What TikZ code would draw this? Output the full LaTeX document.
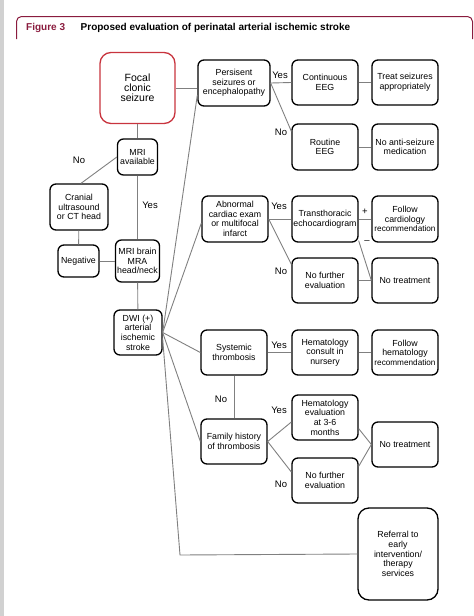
\documentclass[tikz,border=0pt]{standalone}
\usepackage{fontspec}
\setmainfont{Liberation Sans}
\definecolor{figred}{HTML}{8A1C3E}
\definecolor{seizred}{HTML}{C8343E}
\begin{document}
\begin{tikzpicture}[x=1pt,y=-1pt,
  box/.style={draw,line width=1.3pt,rounded corners=6pt,align=center,minimum width=66pt,minimum height=45pt,inner sep=1pt,font=\fontsize{8.8}{9.6}\selectfont},
  conn/.style={draw=black!50,line width=0.9pt},
  lbl/.style={font=\fontsize{9.5}{10}\selectfont,inner sep=0pt}]
\useasboundingbox (0,0) rectangle (474,616);
\fill[black!18] (0,0) rectangle (4,616);
% header
\draw[figred,line width=1pt,rounded corners=5pt] (16.5,39) -- (16.5,16.5) -- (472.5,16.5) -- (472.5,39);
\node[anchor=base west,inner sep=0pt,text=figred,font=\fontsize{10}{12}\selectfont\bfseries] (fig) at (26,30) {Figure 3};
\node[anchor=base west,inner sep=0pt,font=\fontsize{10}{12}\selectfont\bfseries] (title) at (80.5,30) {Proposed evaluation of perinatal arterial ischemic stroke};
% left column
\node[box,draw=seizred,rounded corners=11pt,minimum width=75pt,minimum height=71pt,font=\fontsize{10.5}{10}\selectfont] (focal) at (137.5,88) {Focal\\clonic\\seizure};
\node[box,minimum width=40pt,minimum height=36pt] (mri) at (137.5,157) {MRI\\available};
\node[box,minimum width=58pt,minimum height=46pt] (cranial) at (79,207) {Cranial\\ultrasound\\or CT head};
\node[box,minimum width=41pt,minimum height=32pt] (negative) at (78.5,261) {Negative};
\node[box,minimum width=44pt,minimum height=42pt] (mribrain) at (137.5,261) {MRI brain\\MRA\\head/neck};
\node[box,minimum width=48pt,minimum height=45pt] (dwi) at (138,332.5) {DWI (+)\\arterial\\ischemic\\stroke};
% seizures
\node[box,minimum width=72pt,minimum height=46pt] (persist) at (234,83) {Persisent\\seizures or\\encephalopathy};
\node[box] (cont) at (325,82.5) {Continuous\\EEG};
\node[box] (treat) at (405,82.5) {Treat seizures\\appropriately};
\node[box,minimum height=46pt] (routine) at (325,147) {Routine\\EEG};
\node[box,minimum height=46pt] (noanti) at (405,147) {No anti-seizure\\medication};
% cardiac
\node[box,minimum height=46pt] (abn) at (235,219) {Abnormal\\cardiac exam\\or multifocal\\infarct};
\node[box,minimum height=46pt] (tte) at (325,219) {Transthoracic\\echocardiogram};
\node[box,minimum height=46pt] (followcard) at (405,219) {Follow\\cardiology\\{\fontsize{8.2}{9}\selectfont recommendation}};
\node[box] (nofurther) at (325,280.5) {No further\\evaluation};
\node[box] (notreat) at (405,280.5) {No treatment};
% thrombosis
\node[box] (systemic) at (234,352.5) {Systemic\\thrombosis};
\node[box] (hemcons) at (325,352.5) {Hematology\\consult in\\nursery};
\node[box] (followhem) at (405,352.5) {Follow\\hematology\\{\fontsize{8.2}{9}\selectfont recommendation}};
\node[box] (family) at (234,441.5) {Family history\\of thrombosis};
\node[box] (hemeval) at (325,417.5) {Hematology\\evaluation\\at 3-6\\months};
\node[box] (notreattwo) at (405,444.5) {No treatment};
\node[box] (nofurthertwo) at (325,480.5) {No further\\evaluation};
\node[box,rounded corners=11pt,minimum width=80pt,minimum height=92pt] (referral) at (398,554) {Referral to\\early\\intervention/\\therapy\\services};
% connectors, left column
\draw[conn] (focal) -- (mri);
\draw[conn] (mri.west) -- ([xshift=2pt]cranial.north);
\draw[conn] (mri) -- (mribrain);
\draw[conn] (cranial) -- (negative);
\draw[conn] (negative) -- (mribrain);
\draw[conn] (mribrain) -- (dwi);
\draw[conn] (focal.east) -- (focal.east -| persist.west);
% fan out of DWI
\draw[conn] (dwi.east) -- ([yshift=-12pt]persist.west);
\draw[conn] (dwi.east) -- ([yshift=-4pt]abn.west);
\draw[conn] (dwi.east) -- (systemic.west);
\draw[conn] (dwi.east) -- (family.west);
\coordinate (bend) at (180,555);
\draw[conn] ([yshift=-6pt]dwi.east) -- (bend) -- (referral.west);
% seizure branch
\draw[conn] (persist.east) -- (cont.west);
\draw[conn] (persist.east) -- ([yshift=-8pt]routine.north west);
\draw[conn] (cont) -- (treat);
\draw[conn] (routine) -- (noanti);
% cardiac branch
\draw[conn] (abn.east) -- (tte.west);
\draw[conn] (abn.east) -- ([yshift=-7pt]nofurther.north west);
\draw[conn] (tte) -- (followcard);
\draw[conn] ([yshift=2pt]tte.south east) -- (notreat.west);
\draw[conn] (nofurther) -- (notreat);
% thrombosis branch
\draw[conn] (systemic) -- (hemcons);
\draw[conn] (hemcons) -- (followhem);
\draw[conn] (systemic) -- (family);
\draw[conn] (family.east) -- ([yshift=-4.5pt]hemeval.west);
\draw[conn] (family.east) -- ([yshift=8.5pt]nofurthertwo.west);
\draw[conn] ([yshift=12pt]hemeval.south east) -- (notreattwo.west);
\draw[conn] ([yshift=-9pt]nofurthertwo.north east) -- (notreattwo.west);
% Yes / No labels
\node[lbl] (nomri) at (79,160) {No};
\node[lbl] (yesmri) at (150,205) {Yes};
\node[lbl] (yesseiz) at (280,75) {Yes};
\node[lbl] (noseiz) at (281,132) {No};
\node[lbl] (yescard) at (279,206) {Yes};
\node[lbl] (nocard) at (281,271) {No};
\node[lbl] (pos) at (365,212) {+};
\node[lbl] (neg) at (367,242) {--};
\node[lbl] (yessys) at (279,345) {Yes};
\node[lbl] (nosys) at (221,399) {No};
\node[lbl] (yesfam) at (279,410) {Yes};
\node[lbl] (nofam) at (281,484) {No};
\end{tikzpicture}
\end{document}
